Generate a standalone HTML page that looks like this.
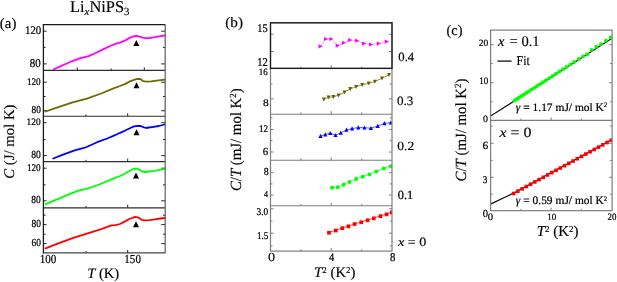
<!DOCTYPE html>
<html><head><meta charset="utf-8"><style>
html,body{margin:0;padding:0;background:#fff;}
body{width:617px;height:282px;overflow:hidden;font-family:"Liberation Serif",serif;}
svg{display:block;will-change:transform;}
</style></head><body>
<svg width="617" height="282" viewBox="0 0 617 282">
<rect width="617" height="282" fill="#fff"/>
<line x1="43.4" y1="31.2" x2="46.6" y2="31.2" stroke="#262626" stroke-width="1"/>
<line x1="165.2" y1="31.2" x2="161.2" y2="31.2" stroke="#262626" stroke-width="1"/>
<line x1="43.4" y1="47.4" x2="45.6" y2="47.4" stroke="#262626" stroke-width="1"/>
<line x1="165.2" y1="47.4" x2="163.0" y2="47.4" stroke="#262626" stroke-width="1"/>
<line x1="43.4" y1="63.9" x2="46.6" y2="63.9" stroke="#262626" stroke-width="1"/>
<line x1="165.2" y1="63.9" x2="161.2" y2="63.9" stroke="#262626" stroke-width="1"/>
<line x1="77.3" y1="70.4" x2="77.3" y2="67.4" stroke="#262626" stroke-width="1"/>
<line x1="111.2" y1="70.4" x2="111.2" y2="68.60000000000001" stroke="#262626" stroke-width="1"/>
<line x1="144.3" y1="70.4" x2="144.3" y2="67.4" stroke="#262626" stroke-width="1"/>
<line x1="43.4" y1="82.2" x2="46.6" y2="82.2" stroke="#262626" stroke-width="1"/>
<line x1="165.2" y1="82.2" x2="161.2" y2="82.2" stroke="#262626" stroke-width="1"/>
<line x1="43.4" y1="96.5" x2="45.6" y2="96.5" stroke="#262626" stroke-width="1"/>
<line x1="165.2" y1="96.5" x2="163.0" y2="96.5" stroke="#262626" stroke-width="1"/>
<line x1="43.4" y1="110.7" x2="46.6" y2="110.7" stroke="#262626" stroke-width="1"/>
<line x1="165.2" y1="110.7" x2="161.2" y2="110.7" stroke="#262626" stroke-width="1"/>
<line x1="85.9" y1="116.2" x2="85.9" y2="114.4" stroke="#262626" stroke-width="1"/>
<line x1="127.7" y1="116.2" x2="127.7" y2="113.2" stroke="#262626" stroke-width="1"/>
<line x1="43.4" y1="122.7" x2="46.6" y2="122.7" stroke="#262626" stroke-width="1"/>
<line x1="165.2" y1="122.7" x2="161.2" y2="122.7" stroke="#262626" stroke-width="1"/>
<line x1="43.4" y1="139.5" x2="45.6" y2="139.5" stroke="#262626" stroke-width="1"/>
<line x1="165.2" y1="139.5" x2="163.0" y2="139.5" stroke="#262626" stroke-width="1"/>
<line x1="43.4" y1="155.6" x2="46.6" y2="155.6" stroke="#262626" stroke-width="1"/>
<line x1="165.2" y1="155.6" x2="161.2" y2="155.6" stroke="#262626" stroke-width="1"/>
<line x1="85.9" y1="161.6" x2="85.9" y2="159.79999999999998" stroke="#262626" stroke-width="1"/>
<line x1="127.7" y1="161.6" x2="127.7" y2="158.6" stroke="#262626" stroke-width="1"/>
<line x1="43.4" y1="168.2" x2="46.6" y2="168.2" stroke="#262626" stroke-width="1"/>
<line x1="165.2" y1="168.2" x2="161.2" y2="168.2" stroke="#262626" stroke-width="1"/>
<line x1="43.4" y1="184.8" x2="45.6" y2="184.8" stroke="#262626" stroke-width="1"/>
<line x1="165.2" y1="184.8" x2="163.0" y2="184.8" stroke="#262626" stroke-width="1"/>
<line x1="43.4" y1="200.8" x2="46.6" y2="200.8" stroke="#262626" stroke-width="1"/>
<line x1="165.2" y1="200.8" x2="161.2" y2="200.8" stroke="#262626" stroke-width="1"/>
<line x1="85.9" y1="207.8" x2="85.9" y2="206.0" stroke="#262626" stroke-width="1"/>
<line x1="127.7" y1="207.8" x2="127.7" y2="204.8" stroke="#262626" stroke-width="1"/>
<line x1="43.4" y1="215.2" x2="45.6" y2="215.2" stroke="#262626" stroke-width="1"/>
<line x1="165.2" y1="215.2" x2="163.0" y2="215.2" stroke="#262626" stroke-width="1"/>
<line x1="43.4" y1="224.6" x2="46.6" y2="224.6" stroke="#262626" stroke-width="1"/>
<line x1="165.2" y1="224.6" x2="161.2" y2="224.6" stroke="#262626" stroke-width="1"/>
<line x1="43.4" y1="234.2" x2="45.6" y2="234.2" stroke="#262626" stroke-width="1"/>
<line x1="165.2" y1="234.2" x2="163.0" y2="234.2" stroke="#262626" stroke-width="1"/>
<line x1="43.4" y1="243.6" x2="46.6" y2="243.6" stroke="#262626" stroke-width="1"/>
<line x1="165.2" y1="243.6" x2="161.2" y2="243.6" stroke="#262626" stroke-width="1"/>
<line x1="85.9" y1="252.9" x2="85.9" y2="251.1" stroke="#262626" stroke-width="1"/>
<line x1="127.7" y1="252.9" x2="127.7" y2="249.9" stroke="#262626" stroke-width="1"/>
<polyline points="53.70,69.20 61.90,65.60 70.80,61.70 79.80,58.40 88.70,56.10 96.20,52.80 103.60,49.10 111.10,45.50 117.00,43.40 120.00,42.60 124.70,40.70 129.30,38.10 133.20,36.40 136.30,35.80 139.50,36.70 142.60,37.70 145.70,38.10 149.60,38.00 155.00,37.20 160.50,36.20 164.60,35.50" fill="none" stroke="#ff00ff" stroke-width="1.8" stroke-linejoin="round" stroke-linecap="round" />
<polyline points="45.50,111.50 58.30,107.20 72.60,102.30 86.90,98.60 101.20,93.50 113.50,88.40 120.00,86.00 124.70,84.10 129.30,81.70 134.00,79.80 137.50,78.80 140.40,79.00 143.30,81.20 146.50,81.70 151.10,81.30 156.60,80.60 164.60,79.60" fill="none" stroke="#6e6800" stroke-width="1.8" stroke-linejoin="round" stroke-linecap="round" />
<polyline points="53.20,158.50 62.40,154.80 74.70,150.30 84.90,147.70 97.10,142.20 107.30,138.50 115.00,135.20 120.00,132.80 124.70,130.80 129.30,128.50 134.00,126.40 137.90,125.80 140.60,126.00 143.30,127.20 146.10,128.00 148.80,127.50 153.50,126.80 158.90,126.00 164.60,124.50" fill="none" stroke="#0000ff" stroke-width="1.8" stroke-linejoin="round" stroke-linecap="round" />
<polyline points="45.50,204.10 58.30,198.80 70.60,193.70 78.80,190.60 89.00,188.20 99.20,184.50 111.40,179.40 120.00,176.00 124.70,173.70 129.30,171.00 133.20,169.00 136.00,168.60 138.70,169.40 141.80,171.30 144.90,172.00 148.80,171.50 155.00,170.80 162.00,169.40 164.60,168.80" fill="none" stroke="#00ff00" stroke-width="1.8" stroke-linejoin="round" stroke-linecap="round" />
<polyline points="45.50,248.40 58.30,243.40 72.60,238.10 86.90,233.60 101.20,229.10 111.40,225.40 115.50,225.10 120.00,224.00 124.70,221.60 129.30,219.00 133.20,217.50 136.00,217.00 138.70,217.70 141.80,219.80 144.90,220.30 149.60,220.10 155.00,219.30 160.50,218.50 164.60,218.00" fill="none" stroke="#ff0000" stroke-width="1.8" stroke-linejoin="round" stroke-linecap="round" />
<polygon points="136.3,40.0 139.3,46.1 133.3,46.1" fill="#000"/>
<polygon points="136.5,82.2 139.5,88.3 133.5,88.3" fill="#000"/>
<polygon points="136.5,129.20000000000002 139.5,135.3 133.5,135.3" fill="#000"/>
<polygon points="136.0,172.5 139.0,178.6 133.0,178.6" fill="#000"/>
<polygon points="136.0,221.20000000000002 139.0,227.3 133.0,227.3" fill="#000"/>
<line x1="43.4" y1="70.4" x2="165.2" y2="70.4" stroke="#2e2e2e" stroke-width="1.15"/>
<line x1="43.4" y1="116.2" x2="165.2" y2="116.2" stroke="#2e2e2e" stroke-width="1.15"/>
<line x1="43.4" y1="161.6" x2="165.2" y2="161.6" stroke="#2e2e2e" stroke-width="1.15"/>
<line x1="43.4" y1="207.8" x2="165.2" y2="207.8" stroke="#2e2e2e" stroke-width="1.15"/>
<line x1="165.2" y1="24.6" x2="165.2" y2="252.9" stroke="#5c5c5c" stroke-width="1.2"/>
<line x1="43.4" y1="252.9" x2="165.2" y2="252.9" stroke="#444" stroke-width="1.3"/>
<line x1="43.4" y1="24.6" x2="165.2" y2="24.6" stroke="#1a1a1a" stroke-width="1.3"/>
<line x1="43.4" y1="23.950000000000003" x2="43.4" y2="253.55" stroke="#1a1a1a" stroke-width="1.3"/>
<line x1="270.5" y1="34.2" x2="273.5" y2="34.2" stroke="#7c7c7c" stroke-width="1"/>
<line x1="392.0" y1="34.2" x2="389.0" y2="34.2" stroke="#7c7c7c" stroke-width="1"/>
<line x1="270.5" y1="51.5" x2="273.5" y2="51.5" stroke="#7c7c7c" stroke-width="1"/>
<line x1="392.0" y1="51.5" x2="389.0" y2="51.5" stroke="#7c7c7c" stroke-width="1"/>
<line x1="300.9" y1="68.4" x2="300.9" y2="66.60000000000001" stroke="#7c7c7c" stroke-width="1"/>
<line x1="331.2" y1="68.4" x2="331.2" y2="65.4" stroke="#7c7c7c" stroke-width="1"/>
<line x1="361.7" y1="68.4" x2="361.7" y2="66.60000000000001" stroke="#7c7c7c" stroke-width="1"/>
<line x1="270.5" y1="83.9" x2="272.5" y2="83.9" stroke="#7c7c7c" stroke-width="1"/>
<line x1="392.0" y1="83.9" x2="390.0" y2="83.9" stroke="#7c7c7c" stroke-width="1"/>
<line x1="270.5" y1="98.9" x2="273.5" y2="98.9" stroke="#7c7c7c" stroke-width="1"/>
<line x1="392.0" y1="98.9" x2="389.0" y2="98.9" stroke="#7c7c7c" stroke-width="1"/>
<line x1="300.9" y1="114.2" x2="300.9" y2="112.4" stroke="#7c7c7c" stroke-width="1"/>
<line x1="331.2" y1="114.2" x2="331.2" y2="111.2" stroke="#7c7c7c" stroke-width="1"/>
<line x1="361.7" y1="114.2" x2="361.7" y2="112.4" stroke="#7c7c7c" stroke-width="1"/>
<line x1="270.5" y1="117.8" x2="272.5" y2="117.8" stroke="#7c7c7c" stroke-width="1"/>
<line x1="392.0" y1="117.8" x2="390.0" y2="117.8" stroke="#7c7c7c" stroke-width="1"/>
<line x1="270.5" y1="129.5" x2="273.5" y2="129.5" stroke="#7c7c7c" stroke-width="1"/>
<line x1="392.0" y1="129.5" x2="389.0" y2="129.5" stroke="#7c7c7c" stroke-width="1"/>
<line x1="270.5" y1="140.6" x2="272.5" y2="140.6" stroke="#7c7c7c" stroke-width="1"/>
<line x1="392.0" y1="140.6" x2="390.0" y2="140.6" stroke="#7c7c7c" stroke-width="1"/>
<line x1="270.5" y1="152.0" x2="273.5" y2="152.0" stroke="#7c7c7c" stroke-width="1"/>
<line x1="392.0" y1="152.0" x2="389.0" y2="152.0" stroke="#7c7c7c" stroke-width="1"/>
<line x1="300.9" y1="160.3" x2="300.9" y2="158.5" stroke="#7c7c7c" stroke-width="1"/>
<line x1="331.2" y1="160.3" x2="331.2" y2="157.3" stroke="#7c7c7c" stroke-width="1"/>
<line x1="361.7" y1="160.3" x2="361.7" y2="158.5" stroke="#7c7c7c" stroke-width="1"/>
<line x1="270.5" y1="172.6" x2="273.5" y2="172.6" stroke="#7c7c7c" stroke-width="1"/>
<line x1="392.0" y1="172.6" x2="389.0" y2="172.6" stroke="#7c7c7c" stroke-width="1"/>
<line x1="270.5" y1="183.9" x2="272.5" y2="183.9" stroke="#7c7c7c" stroke-width="1"/>
<line x1="392.0" y1="183.9" x2="390.0" y2="183.9" stroke="#7c7c7c" stroke-width="1"/>
<line x1="270.5" y1="195.0" x2="273.5" y2="195.0" stroke="#7c7c7c" stroke-width="1"/>
<line x1="392.0" y1="195.0" x2="389.0" y2="195.0" stroke="#7c7c7c" stroke-width="1"/>
<line x1="300.9" y1="205.8" x2="300.9" y2="204.0" stroke="#7c7c7c" stroke-width="1"/>
<line x1="331.2" y1="205.8" x2="331.2" y2="202.8" stroke="#7c7c7c" stroke-width="1"/>
<line x1="361.7" y1="205.8" x2="361.7" y2="204.0" stroke="#7c7c7c" stroke-width="1"/>
<line x1="270.5" y1="208.8" x2="273.5" y2="208.8" stroke="#7c7c7c" stroke-width="1"/>
<line x1="392.0" y1="208.8" x2="389.0" y2="208.8" stroke="#7c7c7c" stroke-width="1"/>
<line x1="270.5" y1="221.1" x2="272.5" y2="221.1" stroke="#7c7c7c" stroke-width="1"/>
<line x1="392.0" y1="221.1" x2="390.0" y2="221.1" stroke="#7c7c7c" stroke-width="1"/>
<line x1="270.5" y1="233.2" x2="273.5" y2="233.2" stroke="#7c7c7c" stroke-width="1"/>
<line x1="392.0" y1="233.2" x2="389.0" y2="233.2" stroke="#7c7c7c" stroke-width="1"/>
<line x1="270.5" y1="245.9" x2="272.5" y2="245.9" stroke="#7c7c7c" stroke-width="1"/>
<line x1="392.0" y1="245.9" x2="390.0" y2="245.9" stroke="#7c7c7c" stroke-width="1"/>
<line x1="300.9" y1="251.1" x2="300.9" y2="249.29999999999998" stroke="#7c7c7c" stroke-width="1"/>
<line x1="331.2" y1="251.1" x2="331.2" y2="248.1" stroke="#7c7c7c" stroke-width="1"/>
<line x1="361.7" y1="251.1" x2="361.7" y2="249.29999999999998" stroke="#7c7c7c" stroke-width="1"/>
<clipPath id="cb"><rect x="270.5" y="22.8" width="121.5" height="228.29999999999998"/></clipPath>
<g clip-path="url(#cb)">
<polyline points="320.40,46.30 325.80,39.00 331.30,39.00 337.60,45.60 343.70,42.80 349.90,40.00 357.00,40.70 363.90,43.60 370.90,44.50 378.60,43.60 386.60,41.60" fill="none" stroke="#ff77ff" stroke-width="0.9" stroke-linejoin="round" stroke-linecap="round" stroke-dasharray="1.2 1.2"/>
<polygon points="318.51,44.20 322.71,46.30 318.51,48.40" fill="#ff00ff"/>
<polygon points="323.91,36.90 328.11,39.00 323.91,41.10" fill="#ff00ff"/>
<polygon points="329.41,36.90 333.61,39.00 329.41,41.10" fill="#ff00ff"/>
<polygon points="335.71,43.50 339.91,45.60 335.71,47.70" fill="#ff00ff"/>
<polygon points="341.81,40.70 346.01,42.80 341.81,44.90" fill="#ff00ff"/>
<polygon points="348.01,37.90 352.21,40.00 348.01,42.10" fill="#ff00ff"/>
<polygon points="355.11,38.60 359.31,40.70 355.11,42.80" fill="#ff00ff"/>
<polygon points="362.01,41.50 366.21,43.60 362.01,45.70" fill="#ff00ff"/>
<polygon points="369.01,42.40 373.21,44.50 369.01,46.60" fill="#ff00ff"/>
<polygon points="376.71,41.50 380.91,43.60 376.71,45.70" fill="#ff00ff"/>
<polygon points="384.71,39.50 388.91,41.60 384.71,43.70" fill="#ff00ff"/>
<polyline points="323.80,99.20 328.50,97.40 333.40,96.80 338.60,95.20 344.50,92.20 350.20,88.90 356.10,86.70 362.20,84.80 368.70,83.30 374.90,81.50 382.00,78.20 389.00,74.70" fill="none" stroke="#7a7400" stroke-width="0.8" stroke-linejoin="round" stroke-linecap="round" />
<polygon points="321.80,97.40 325.80,97.40 323.80,101.40" fill="#666000"/>
<polygon points="326.50,95.60 330.50,95.60 328.50,99.60" fill="#666000"/>
<polygon points="331.40,95.00 335.40,95.00 333.40,99.00" fill="#666000"/>
<polygon points="336.60,93.40 340.60,93.40 338.60,97.40" fill="#666000"/>
<polygon points="342.50,90.40 346.50,90.40 344.50,94.40" fill="#666000"/>
<polygon points="348.20,87.10 352.20,87.10 350.20,91.10" fill="#666000"/>
<polygon points="354.10,84.90 358.10,84.90 356.10,88.90" fill="#666000"/>
<polygon points="360.20,83.00 364.20,83.00 362.20,87.00" fill="#666000"/>
<polygon points="366.70,81.50 370.70,81.50 368.70,85.50" fill="#666000"/>
<polygon points="372.90,79.70 376.90,79.70 374.90,83.70" fill="#666000"/>
<polygon points="380.00,76.40 384.00,76.40 382.00,80.40" fill="#666000"/>
<polygon points="387.00,72.90 391.00,72.90 389.00,76.90" fill="#666000"/>
<polyline points="320.50,136.00 325.30,134.50 330.30,133.20 335.50,135.20 340.80,132.80 346.50,129.90 352.10,128.60 358.30,127.50 364.40,127.70 370.90,128.20 377.70,126.00 384.40,123.40 390.80,122.70" fill="none" stroke="#3333ff" stroke-width="0.8" stroke-linejoin="round" stroke-linecap="round" />
<polygon points="318.40,137.89 322.60,137.89 320.50,133.69" fill="#0000ff"/>
<polygon points="323.20,136.39 327.40,136.39 325.30,132.19" fill="#0000ff"/>
<polygon points="328.20,135.09 332.40,135.09 330.30,130.89" fill="#0000ff"/>
<polygon points="333.40,137.09 337.60,137.09 335.50,132.89" fill="#0000ff"/>
<polygon points="338.70,134.69 342.90,134.69 340.80,130.49" fill="#0000ff"/>
<polygon points="344.40,131.79 348.60,131.79 346.50,127.59" fill="#0000ff"/>
<polygon points="350.00,130.49 354.20,130.49 352.10,126.29" fill="#0000ff"/>
<polygon points="356.20,129.39 360.40,129.39 358.30,125.19" fill="#0000ff"/>
<polygon points="362.30,129.59 366.50,129.59 364.40,125.39" fill="#0000ff"/>
<polygon points="368.80,130.09 373.00,130.09 370.90,125.89" fill="#0000ff"/>
<polygon points="375.60,127.89 379.80,127.89 377.70,123.69" fill="#0000ff"/>
<polygon points="382.30,125.29 386.50,125.29 384.40,121.09" fill="#0000ff"/>
<polygon points="388.70,124.59 392.90,124.59 390.80,120.39" fill="#0000ff"/>
<polyline points="332.10,187.50 337.70,187.00 343.60,184.40 349.50,181.60 356.10,178.80 362.60,176.50 369.40,174.20 376.40,171.30 383.80,168.30 390.80,165.90" fill="none" stroke="#33ff33" stroke-width="0.9" stroke-linejoin="round" stroke-linecap="round" />
<circle cx="332.1" cy="187.8" r="2.0" fill="#00ff00"/>
<circle cx="337.7" cy="187.3" r="2.0" fill="#00ff00"/>
<circle cx="343.6" cy="184.70000000000002" r="2.0" fill="#00ff00"/>
<circle cx="349.5" cy="181.9" r="2.0" fill="#00ff00"/>
<circle cx="356.1" cy="179.10000000000002" r="2.0" fill="#00ff00"/>
<circle cx="362.6" cy="176.8" r="2.0" fill="#00ff00"/>
<circle cx="369.4" cy="174.5" r="2.0" fill="#00ff00"/>
<circle cx="376.4" cy="171.60000000000002" r="2.0" fill="#00ff00"/>
<circle cx="383.8" cy="168.60000000000002" r="2.0" fill="#00ff00"/>
<circle cx="390.8" cy="166.20000000000002" r="2.0" fill="#00ff00"/>
<polyline points="329.00,232.50 335.80,230.30 342.30,227.90 348.40,226.10 354.60,223.80 361.30,222.00 367.60,220.00 373.80,218.10 380.50,215.90 386.60,214.10 391.70,212.20" fill="none" stroke="#ff3333" stroke-width="0.9" stroke-linejoin="round" stroke-linecap="round" />
<rect x="327.15" y="230.90" width="3.7" height="3.7" fill="#ff0000"/>
<rect x="333.95" y="228.70" width="3.7" height="3.7" fill="#ff0000"/>
<rect x="340.45" y="226.30" width="3.7" height="3.7" fill="#ff0000"/>
<rect x="346.55" y="224.50" width="3.7" height="3.7" fill="#ff0000"/>
<rect x="352.75" y="222.20" width="3.7" height="3.7" fill="#ff0000"/>
<rect x="359.45" y="220.40" width="3.7" height="3.7" fill="#ff0000"/>
<rect x="365.75" y="218.40" width="3.7" height="3.7" fill="#ff0000"/>
<rect x="371.95" y="216.50" width="3.7" height="3.7" fill="#ff0000"/>
<rect x="378.65" y="214.30" width="3.7" height="3.7" fill="#ff0000"/>
<rect x="384.75" y="212.50" width="3.7" height="3.7" fill="#ff0000"/>
<rect x="389.85" y="210.60" width="3.7" height="3.7" fill="#ff0000"/>
</g>
<line x1="270.5" y1="68.4" x2="392.0" y2="68.4" stroke="#7c7c7c" stroke-width="1.1"/>
<line x1="270.5" y1="114.2" x2="392.0" y2="114.2" stroke="#7c7c7c" stroke-width="1.1"/>
<line x1="270.5" y1="160.3" x2="392.0" y2="160.3" stroke="#7c7c7c" stroke-width="1.1"/>
<line x1="270.5" y1="205.8" x2="392.0" y2="205.8" stroke="#7c7c7c" stroke-width="1.1"/>
<rect x="270.5" y="22.8" width="121.5" height="228.29999999999998" fill="none" stroke="#7c7c7c" stroke-width="1.2"/>
<rect x="270.5" y="22.8" width="121.5" height="45.60000000000001" fill="none" stroke="#1a1a1a" stroke-width="1.3"/>
<line x1="490.6" y1="44.7" x2="493.6" y2="44.7" stroke="#7c7c7c" stroke-width="1"/>
<line x1="612.1" y1="44.7" x2="609.1" y2="44.7" stroke="#7c7c7c" stroke-width="1"/>
<line x1="490.6" y1="63.5" x2="492.6" y2="63.5" stroke="#7c7c7c" stroke-width="1"/>
<line x1="612.1" y1="63.5" x2="610.1" y2="63.5" stroke="#7c7c7c" stroke-width="1"/>
<line x1="490.6" y1="82.7" x2="493.6" y2="82.7" stroke="#7c7c7c" stroke-width="1"/>
<line x1="612.1" y1="82.7" x2="609.1" y2="82.7" stroke="#7c7c7c" stroke-width="1"/>
<line x1="490.6" y1="101.8" x2="492.6" y2="101.8" stroke="#7c7c7c" stroke-width="1"/>
<line x1="612.1" y1="101.8" x2="610.1" y2="101.8" stroke="#7c7c7c" stroke-width="1"/>
<line x1="520.9" y1="120.4" x2="520.9" y2="118.60000000000001" stroke="#7c7c7c" stroke-width="1"/>
<line x1="551.1" y1="120.4" x2="551.1" y2="117.4" stroke="#7c7c7c" stroke-width="1"/>
<line x1="581.4" y1="120.4" x2="581.4" y2="118.60000000000001" stroke="#7c7c7c" stroke-width="1"/>
<line x1="490.6" y1="126.2" x2="492.6" y2="126.2" stroke="#7c7c7c" stroke-width="1"/>
<line x1="612.1" y1="126.2" x2="610.1" y2="126.2" stroke="#7c7c7c" stroke-width="1"/>
<line x1="490.6" y1="143.3" x2="493.6" y2="143.3" stroke="#7c7c7c" stroke-width="1"/>
<line x1="612.1" y1="143.3" x2="609.1" y2="143.3" stroke="#7c7c7c" stroke-width="1"/>
<line x1="490.6" y1="160.4" x2="492.6" y2="160.4" stroke="#7c7c7c" stroke-width="1"/>
<line x1="612.1" y1="160.4" x2="610.1" y2="160.4" stroke="#7c7c7c" stroke-width="1"/>
<line x1="490.6" y1="177.3" x2="493.6" y2="177.3" stroke="#7c7c7c" stroke-width="1"/>
<line x1="612.1" y1="177.3" x2="609.1" y2="177.3" stroke="#7c7c7c" stroke-width="1"/>
<line x1="490.6" y1="194.2" x2="492.6" y2="194.2" stroke="#7c7c7c" stroke-width="1"/>
<line x1="612.1" y1="194.2" x2="610.1" y2="194.2" stroke="#7c7c7c" stroke-width="1"/>
<line x1="520.9" y1="210.7" x2="520.9" y2="208.89999999999998" stroke="#7c7c7c" stroke-width="1"/>
<line x1="551.1" y1="210.7" x2="551.1" y2="207.7" stroke="#7c7c7c" stroke-width="1"/>
<line x1="581.4" y1="210.7" x2="581.4" y2="208.89999999999998" stroke="#7c7c7c" stroke-width="1"/>
<clipPath id="cc"><rect x="490.6" y="30.1" width="121.5" height="180.6"/></clipPath>
<g clip-path="url(#cc)">
<line x1="490.6" y1="116.1" x2="611.7" y2="38.6" stroke="#111" stroke-width="1.2"/>
<circle cx="514.58" cy="100.51" r="1.95" fill="#00ff00"/>
<circle cx="516.70" cy="99.14" r="1.95" fill="#00ff00"/>
<circle cx="518.92" cy="97.71" r="1.95" fill="#00ff00"/>
<circle cx="521.22" cy="96.21" r="1.95" fill="#00ff00"/>
<circle cx="523.62" cy="94.66" r="1.95" fill="#00ff00"/>
<circle cx="526.10" cy="93.06" r="1.95" fill="#00ff00"/>
<circle cx="528.68" cy="91.39" r="1.95" fill="#00ff00"/>
<circle cx="531.35" cy="89.67" r="1.95" fill="#00ff00"/>
<circle cx="534.10" cy="87.88" r="1.95" fill="#00ff00"/>
<circle cx="536.95" cy="86.04" r="1.95" fill="#00ff00"/>
<circle cx="539.89" cy="84.14" r="1.95" fill="#00ff00"/>
<circle cx="542.91" cy="82.18" r="1.95" fill="#00ff00"/>
<circle cx="546.03" cy="80.17" r="1.95" fill="#00ff00"/>
<circle cx="549.24" cy="78.09" r="1.95" fill="#00ff00"/>
<circle cx="552.53" cy="75.96" r="1.95" fill="#00ff00"/>
<circle cx="555.92" cy="73.77" r="1.95" fill="#00ff00"/>
<circle cx="559.40" cy="71.52" r="1.95" fill="#00ff00"/>
<circle cx="562.97" cy="69.21" r="1.95" fill="#00ff00"/>
<circle cx="566.62" cy="66.84" r="1.95" fill="#00ff00"/>
<circle cx="570.37" cy="64.41" r="1.95" fill="#00ff00"/>
<circle cx="574.21" cy="61.93" r="1.95" fill="#00ff00"/>
<circle cx="578.70" cy="58.90" r="1.95" fill="#00ff00"/>
<circle cx="583.00" cy="56.40" r="1.95" fill="#00ff00"/>
<circle cx="587.20" cy="54.30" r="1.95" fill="#00ff00"/>
<circle cx="591.50" cy="49.90" r="1.95" fill="#00ff00"/>
<circle cx="596.30" cy="46.70" r="1.95" fill="#00ff00"/>
<circle cx="600.90" cy="44.10" r="1.95" fill="#00ff00"/>
<circle cx="605.90" cy="40.60" r="1.95" fill="#00ff00"/>
<circle cx="610.60" cy="37.40" r="1.95" fill="#00ff00"/>
<polyline points="490.4,204.1 513.4,193.2 611.6,139.8" fill="none" stroke="#111" stroke-width="1.2"/>
<rect x="511.80" y="191.70" width="3.6" height="3.6" fill="#ff0000"/>
<rect x="516.05" y="189.38" width="3.6" height="3.6" fill="#ff0000"/>
<rect x="520.30" y="187.07" width="3.6" height="3.6" fill="#ff0000"/>
<rect x="524.54" y="184.75" width="3.6" height="3.6" fill="#ff0000"/>
<rect x="528.79" y="182.43" width="3.6" height="3.6" fill="#ff0000"/>
<rect x="533.04" y="180.11" width="3.6" height="3.6" fill="#ff0000"/>
<rect x="537.29" y="177.80" width="3.6" height="3.6" fill="#ff0000"/>
<rect x="541.53" y="175.48" width="3.6" height="3.6" fill="#ff0000"/>
<rect x="545.78" y="173.16" width="3.6" height="3.6" fill="#ff0000"/>
<rect x="550.03" y="170.84" width="3.6" height="3.6" fill="#ff0000"/>
<rect x="554.28" y="168.53" width="3.6" height="3.6" fill="#ff0000"/>
<rect x="558.53" y="166.21" width="3.6" height="3.6" fill="#ff0000"/>
<rect x="562.77" y="163.89" width="3.6" height="3.6" fill="#ff0000"/>
<rect x="567.02" y="161.57" width="3.6" height="3.6" fill="#ff0000"/>
<rect x="571.27" y="159.26" width="3.6" height="3.6" fill="#ff0000"/>
<rect x="575.52" y="156.94" width="3.6" height="3.6" fill="#ff0000"/>
<rect x="579.77" y="154.62" width="3.6" height="3.6" fill="#ff0000"/>
<rect x="584.01" y="152.30" width="3.6" height="3.6" fill="#ff0000"/>
<rect x="588.26" y="149.99" width="3.6" height="3.6" fill="#ff0000"/>
<rect x="592.51" y="147.67" width="3.6" height="3.6" fill="#ff0000"/>
<rect x="596.76" y="145.35" width="3.6" height="3.6" fill="#ff0000"/>
<rect x="601.00" y="143.03" width="3.6" height="3.6" fill="#ff0000"/>
<rect x="605.25" y="140.72" width="3.6" height="3.6" fill="#ff0000"/>
<rect x="609.50" y="138.40" width="3.6" height="3.6" fill="#ff0000"/>
</g>
<line x1="497.4" y1="61.1" x2="511.6" y2="61.1" stroke="#222" stroke-width="1.4"/>
<line x1="490.6" y1="120.4" x2="612.1" y2="120.4" stroke="#7c7c7c" stroke-width="1.1"/>
<rect x="490.6" y="30.1" width="121.5" height="180.6" fill="none" stroke="#7c7c7c" stroke-width="1.2"/>
<g font-family="Liberation Serif" text-rendering="geometricPrecision">
<text transform="matrix(0.16387 0 0 0.16471 70.058 11.956)" font-size="100" fill="#000" stroke="#000" stroke-width="0.91">Li<tspan font-size="66" dy="20" font-style="italic">x</tspan><tspan dy="-20">NiPS</tspan><tspan font-size="66" dy="20">3</tspan></text>
<text transform="matrix(0.14854 0 0 0.14778 -0.144 28.047)" font-size="100" fill="#000" stroke="#000" stroke-width="1.01">(a)</text>
<text transform="matrix(0.10876 0 0 0.11765 24.971 34.215)" font-size="100" fill="#000" stroke="#000" stroke-width="1.94">120</text>
<text transform="matrix(0.10978 0 0 0.11940 29.811 67.211)" font-size="100" fill="#000" stroke="#000" stroke-width="1.92">80</text>
<text transform="matrix(0.09197 0 0 0.10147 26.922 84.947)" font-size="100" fill="#000" stroke="#000" stroke-width="2.28">120</text>
<text transform="matrix(0.09292 0 0 0.10559 31.504 113.176)" font-size="100" fill="#000" stroke="#000" stroke-width="2.22">80</text>
<text transform="matrix(0.09416 0 0 0.09853 26.603 125.453)" font-size="100" fill="#000" stroke="#000" stroke-width="2.28">120</text>
<text transform="matrix(0.09587 0 0 0.10894 31.206 158.382)" font-size="100" fill="#000" stroke="#000" stroke-width="2.15">80</text>
<text transform="matrix(0.09197 0 0 0.10294 26.922 171.244)" font-size="100" fill="#000" stroke="#000" stroke-width="2.26">120</text>
<text transform="matrix(0.09457 0 0 0.10746 31.272 203.435)" font-size="100" fill="#000" stroke="#000" stroke-width="2.18">80</text>
<text transform="matrix(0.09457 0 0 0.10746 31.572 227.235)" font-size="100" fill="#000" stroke="#000" stroke-width="2.18">80</text>
<text transform="matrix(0.09457 0 0 0.10746 31.572 246.235)" font-size="100" fill="#000" stroke="#000" stroke-width="2.18">60</text>
<text transform="matrix(0.11022 0 0 0.12206 39.758 263.406)" font-size="100" fill="#000" stroke="#000" stroke-width="1.90">100</text>
<text transform="matrix(0.11022 0 0 0.12206 124.358 263.406)" font-size="100" fill="#000" stroke="#000" stroke-width="1.90">150</text>
<text transform="matrix(0.14615 0 0 0.14444 87.127 278.217)" font-size="100" fill="#000" stroke="#000" stroke-width="1.03"><tspan font-style="italic">T</tspan> (K)</text>
<text transform="matrix(0 -0.14756 0.14778 0 14.047 178.735)" font-size="100" fill="#000" stroke="#000" stroke-width="1.02"><tspan font-style="italic">C</tspan> (J/ mol K)</text>
<text transform="matrix(0.15278 0 0 0.14444 225.239 26.717)" font-size="100" fill="#000" stroke="#000" stroke-width="1.01">(b)</text>
<text transform="matrix(0.10368 0 0 0.11782 257.257 32.379)" font-size="100" fill="#000" stroke="#000" stroke-width="1.99">15</text>
<text transform="matrix(0.10579 0 0 0.12021 257.152 66.017)" font-size="100" fill="#000" stroke="#000" stroke-width="1.95">12</text>
<text transform="matrix(0.08864 0 0 0.09559 258.852 75.259)" font-size="100" fill="#000" stroke="#000" stroke-width="2.39">16</text>
<text transform="matrix(0.11429 0 0 0.10149 262.893 106.247)" font-size="100" fill="#000" stroke="#000" stroke-width="2.04">8</text>
<text transform="matrix(0.08941 0 0 0.10152 258.945 132.450)" font-size="100" fill="#000" stroke="#000" stroke-width="2.31">12</text>
<text transform="matrix(0.10930 0 0 0.10746 262.713 155.235)" font-size="100" fill="#000" stroke="#000" stroke-width="2.03">6</text>
<text transform="matrix(0.10000 0 0 0.10746 263.750 175.235)" font-size="100" fill="#000" stroke="#000" stroke-width="2.12">8</text>
<text transform="matrix(0.08043 0 0 0.09077 263.989 196.650)" font-size="100" fill="#000" stroke="#000" stroke-width="2.57">4</text>
<text transform="matrix(0.09397 0 0 0.10299 256.480 214.944)" font-size="100" fill="#000" stroke="#000" stroke-width="2.24">3.0</text>
<text transform="matrix(0.09106 0 0 0.10347 256.881 239.313)" font-size="100" fill="#000" stroke="#000" stroke-width="2.27">1.5</text>
<text transform="matrix(0.12689 0 0 0.12687 398.342 60.796)" font-size="100" fill="#000" stroke="#000" stroke-width="1.18">0.4</text>
<text transform="matrix(0.13077 0 0 0.12687 396.927 105.496)" font-size="100" fill="#000" stroke="#000" stroke-width="1.16">0.3</text>
<text transform="matrix(0.13565 0 0 0.12388 397.307 149.902)" font-size="100" fill="#000" stroke="#000" stroke-width="1.16">0.2</text>
<text transform="matrix(0.12261 0 0 0.12500 397.860 199.000)" font-size="100" fill="#000" stroke="#000" stroke-width="1.78">0.1</text>
<text transform="matrix(0.14040 0 0 0.12687 397.990 245.696)" font-size="100" fill="#000" stroke="#000" stroke-width="1.12"><tspan font-style="italic">x</tspan> = 0</text>
<text transform="matrix(0.14129 0 0 0.12394 267.918 261.204)" font-size="100" fill="#000" stroke="#000" stroke-width="1.13">0</text>
<text transform="matrix(0.10435 0 0 0.11538 328.941 261.450)" font-size="100" fill="#000" stroke="#000" stroke-width="2.00">4</text>
<text transform="matrix(0.10714 0 0 0.11940 390.021 261.211)" font-size="100" fill="#000" stroke="#000" stroke-width="1.95">8</text>
<text transform="matrix(0.14776 0 0 0.14667 314.116 276.870)" font-size="100" fill="#000" stroke="#000" stroke-width="1.02"><tspan font-style="italic">T</tspan><tspan font-size="60" dy="-29">2</tspan><tspan dy="29"> (K</tspan><tspan font-size="60" dy="-29">2</tspan><tspan dy="29">)</tspan></text>
<text transform="matrix(0 -0.14795 0.15556 0 240.983 191.038)" font-size="100" fill="#000" stroke="#000" stroke-width="0.99"><tspan font-style="italic">C</tspan>/<tspan font-style="italic">T</tspan> (mJ/ mol K<tspan font-size="60" dy="-29">2</tspan><tspan dy="29">)</tspan></text>
<text transform="matrix(0.14369 0 0 0.14778 446.575 34.647)" font-size="100" fill="#000" stroke="#000" stroke-width="1.03">(c)</text>
<text transform="matrix(0.09457 0 0 0.09552 478.872 46.459)" font-size="100" fill="#000" stroke="#000" stroke-width="2.31">20</text>
<text transform="matrix(0.08966 0 0 0.09853 479.343 84.453)" font-size="100" fill="#000" stroke="#000" stroke-width="2.34">10</text>
<text transform="matrix(0.10000 0 0 0.09701 483.050 122.256)" font-size="100" fill="#000" stroke="#000" stroke-width="2.23">0</text>
<text transform="matrix(0.11628 0 0 0.11045 482.485 149.429)" font-size="100" fill="#000" stroke="#000" stroke-width="1.94">6</text>
<text transform="matrix(0.09178 0 0 0.10429 482.760 183.287)" font-size="100" fill="#000" stroke="#000" stroke-width="2.25">3</text>
<text transform="matrix(0.10476 0 0 0.10746 482.831 217.235)" font-size="100" fill="#000" stroke="#000" stroke-width="2.07">0</text>
<text transform="matrix(0.10714 0 0 0.10000 487.721 220.450)" font-size="100" fill="#000" stroke="#000" stroke-width="2.13">0</text>
<text transform="matrix(0.08851 0 0 0.09559 547.353 220.259)" font-size="100" fill="#000" stroke="#000" stroke-width="2.39">10</text>
<text transform="matrix(0.08913 0 0 0.09701 607.593 220.256)" font-size="100" fill="#000" stroke="#000" stroke-width="2.37">20</text>
<text transform="matrix(0.14555 0 0 0.14706 497.996 46.456)" font-size="100" fill="#000" stroke="#000" stroke-width="1.03"><tspan font-style="italic">x</tspan><tspan dx="10"> = </tspan>0.1</text>
<text transform="matrix(0.12057 0 0 0.13702 516.477 65.135)" font-size="100" fill="#000" stroke="#000" stroke-width="1.17">Fit</text>
<text transform="matrix(0.11463 0 0 0.11333 515.821 110.770)" font-size="100" fill="#000" stroke="#000" stroke-width="1.93"><tspan font-style="italic">γ</tspan> = 1.17 mJ/ mol K<tspan font-size="60" dy="-29">2</tspan></text>
<text transform="matrix(0.15960 0 0 0.14030 499.410 137.069)" font-size="100" fill="#000" stroke="#000" stroke-width="1.00"><tspan font-style="italic">x</tspan> = 0</text>
<text transform="matrix(0.11463 0 0 0.11556 515.821 204.423)" font-size="100" fill="#000" stroke="#000" stroke-width="1.91"><tspan font-style="italic">γ</tspan> = 0.59 mJ/ mol K<tspan font-size="60" dy="-29">2</tspan></text>
<text transform="matrix(0.14925 0 0 0.15111 536.705 236.277)" font-size="100" fill="#000" stroke="#000" stroke-width="1.00"><tspan font-style="italic">T</tspan><tspan font-size="60" dy="-29">2</tspan><tspan dy="29"> (K</tspan><tspan font-size="60" dy="-29">2</tspan><tspan dy="29">)</tspan></text>
<text transform="matrix(0 -0.14810 0.15556 0 465.983 181.439)" font-size="100" fill="#000" stroke="#000" stroke-width="0.99"><tspan font-style="italic">C</tspan>/<tspan font-style="italic">T</tspan> (mJ/ mol K<tspan font-size="60" dy="-29">2</tspan><tspan dy="29">)</tspan></text>
</g>
</svg>
</body></html>
